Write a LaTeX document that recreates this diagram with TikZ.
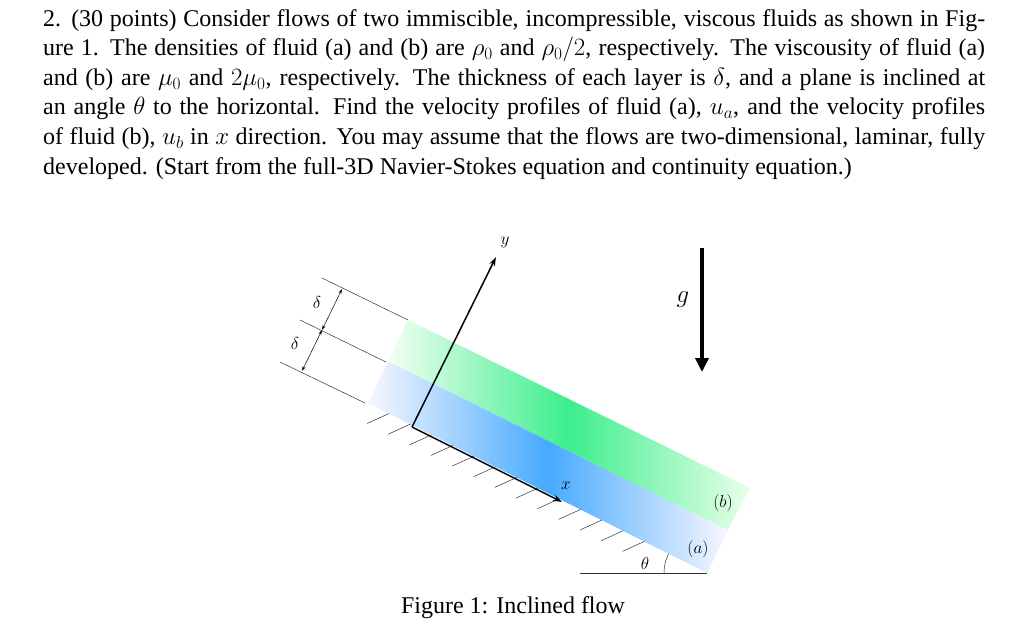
\documentclass[tikz,border=0pt]{standalone}
\usepackage{fontspec}
\setmainfont{Liberation Serif}
\usetikzlibrary{arrows.meta}
\begin{document}
\begin{tikzpicture}[x=1pt,y=-1pt,
  ext/.style={line width=0.5pt,black!80},
  hatch/.style={line width=0.5pt,black!80},
  axis/.style={line width=1.5pt,-{Stealth[length=9pt,width=6pt]}},
  dim/.style={line width=0.5pt,{Stealth[length=5pt,width=3pt]}-{Stealth[length=5pt,width=3pt]}},
  lbl/.style={inner sep=0pt,font=\fontsize{18}{18}\selectfont}]
\useasboundingbox (0,0) rectangle (1024,623);
\node[anchor=north west,inner sep=0pt,text width=942pt,align=justify,font=\fontsize{24}{29.6}\selectfont] (txt) at (43,9)
{2. (30 points) Consider flows of two immiscible, incompressible, viscous fluids as shown in Fig-\linebreak ure 1. The densities of fluid (a) and (b) are $\rho_0$ and $\rho_0/2$, respectively. The viscousity of fluid (a)\linebreak and (b) are $\mu_0$ and $2\mu_0$, respectively. The thickness of each layer is $\delta$, and a plane is inclined at\linebreak an angle $\theta$ to the horizontal. Find the velocity profiles of fluid (a), $u_a$, and the velocity profiles\linebreak of fluid (b), $u_b$ in $x$ direction. You may assume that the flows are two-dimensional, laminar, fully\linebreak developed. (Start from the full-3D Navier-Stokes equation and continuity equation.)};
% bands
\shade[shading angle=63.4,left color=blue!3,right color=blue!3,middle color={rgb,255:red,70;green,170;blue,255}]
  (368,403) -- (707,573) -- (728,530) -- (388,361) -- cycle;
\shade[shading angle=63.4,left color=green!5,right color=green!8,middle color={rgb,255:red,60;green,238;blue,140}]
  (388,361) -- (728,530) -- (750,488) -- (408,320) -- cycle;
% extension lines
\draw[ext] (408,320) -- (322,278);
\draw[ext] (386,362) -- (300,320);
\draw[ext] (365,403) -- (280,362);
\coordinate (d1) at (342,289); \coordinate (d2) at (322,330); \coordinate (d3) at (302,371);
\draw[dim] (d1) -- (d2);
\draw[dim] (d2) -- (d3);
\node[lbl] at (317,302) {$\delta$};
\node[lbl] at (295,343) {$\delta$};
% wall hatches
\foreach \t in {0,...,12}{
  \pgfmathsetmacro{\px}{368+21.3*\t+21}
  \pgfmathsetmacro{\py}{403+0.5*(21.3*\t+21)}
  \draw[hatch] (\px,\py) -- ++(-22,10);
}
% horizontal & angle
\coordinate (w) at (707,573);
\draw[ext] (580,573) -- (w);
\draw[ext] (664,573) arc[start angle=180,end angle=206.6,radius=43];
\node[lbl] at (645,563) {$\theta$};
% axes
\coordinate (o) at (412,427);
\coordinate (xt) at (562,502);
\coordinate (yt) at (496,257);
\draw[axis] (o) -- (xt);
\draw[axis] (o) -- (yt);
\node[lbl] at (566,486) {$x$};
\node[lbl] at (505,242) {$y$};
% gravity
\coordinate (g1) at (702,248); \coordinate (g2) at (702,372);
\draw[line width=4pt,-{Triangle[length=14pt,width=13pt]}] (g1) -- (g2);
\node[inner sep=0pt,font=\fontsize{56}{56}\selectfont] at (683,300) {$g$};
\node[lbl] at (723,503) {$(b)$};
\node[lbl] at (698,549) {$(a)$};
\node[inner sep=0pt,font=\fontsize{24}{24}\selectfont] (cap) at (513,608) {Figure 1: Inclined flow};
\end{tikzpicture}
\end{document}
